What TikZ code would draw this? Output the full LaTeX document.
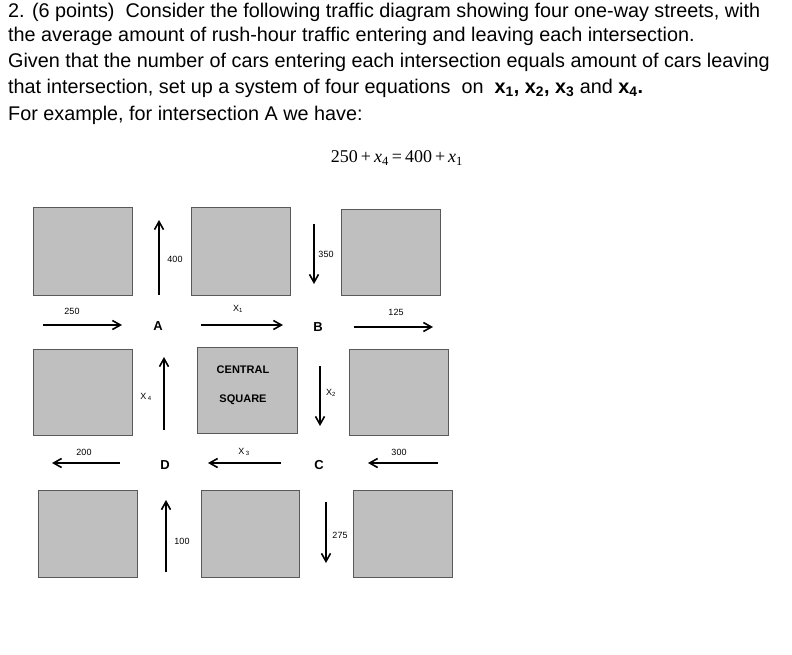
\documentclass[tikz,border=0pt]{standalone}
\usepackage{fontspec}
\setmainfont{Liberation Sans}
\newfontfamily\eqfont{Liberation Serif}
\usetikzlibrary{arrows.meta}
\begin{document}
\begin{tikzpicture}[x=1pt,y=-1pt,
  blk/.style={draw=gray!70!black,fill=gray!50,line width=0.6pt},
  arr/.style={-{Straight Barb[length=8pt,width=9pt,line width=1.6pt]},line width=1.6pt},
  lbl/.style={font=\fontsize{9}{10}\selectfont},
  inter/.style={font=\fontsize{13}{15}\selectfont\bfseries},
  txt/.style={anchor=west,font=\fontsize{19.8}{22}\selectfont,inner sep=0pt}]
\useasboundingbox (0,0) rectangle (792,654);
\node[txt] (t1) at (8,12) {2. (6 points)\ \ Consider the following traffic diagram showing four one-way streets, with};
\node[txt] (t2) at (8,36) {the average amount of rush-hour traffic entering and leaving each intersection.};
\node[txt] (t3) at (8,62) {Given that the number of cars entering each intersection equals amount of cars leaving};
\node[txt] (t4) at (8,88) {that intersection, set up a system of four equations\ \ on\ \ \textbf{x\textsubscript{1}, x\textsubscript{2},\ x\textsubscript{3}} and \textbf{x\textsubscript{4}.}};
\node[txt] (t5) at (8,115) {For example, for intersection A we have:};
\node[font=\eqfont\fontsize{18}{20}\selectfont] (eq) at (397,158) {250\,+\,\textit{x}\textsubscript{4}\,=\,400\,+\,\textit{x}\textsubscript{1}};
% blocks
\draw[blk] (33,207) rectangle (132,295);
\draw[blk] (191,207) rectangle (290,295);
\draw[blk] (341,209) rectangle (440,295);
\draw[blk] (33,349) rectangle (132,435);
\draw[blk] (197,347) rectangle (297,433);
\draw[blk] (349,349) rectangle (448,435);
\draw[blk] (38,490) rectangle (137,577);
\draw[blk] (201,490) rectangle (299,577);
\draw[blk] (353,490) rectangle (452,577);
\node[inter,font=\fontsize{11}{13}\selectfont\bfseries] (cen) at (243,370) {CENTRAL};
\node[inter,font=\fontsize{11}{13}\selectfont\bfseries] (sq) at (243,400) {SQUARE};
% intersections
\node[inter] (A) at (158,326) {A};
\node[inter] (B) at (318,327) {B};
\node[inter] (D) at (165,465) {D};
\node[inter] (C) at (319,465) {C};
% arrow endpoints
\coordinate (a1s) at (159,295); \coordinate (a1e) at (159,220);
\coordinate (a2s) at (314,224); \coordinate (a2e) at (314,284);
\coordinate (a3s) at (43,325); \coordinate (a3e) at (122,325);
\coordinate (a4s) at (201,325); \coordinate (a4e) at (283,325);
\coordinate (a5s) at (354,327); \coordinate (a5e) at (433,327);
\coordinate (a6s) at (164,430); \coordinate (a6e) at (164,357);
\coordinate (a7s) at (320,366); \coordinate (a7e) at (320,426);
\coordinate (a8s) at (120,463); \coordinate (a8e) at (52,463);
\coordinate (a9s) at (281,463); \coordinate (a9e) at (208,463);
\coordinate (a10s) at (438,463); \coordinate (a10e) at (368,463);
\coordinate (a11s) at (166,572); \coordinate (a11e) at (166,500);
\coordinate (a12s) at (326,502); \coordinate (a12e) at (326,563);
\foreach \i in {1,...,12} \draw[arr] (a\i s) -- (a\i e);
\node[lbl] (l400) at (175,259) {400};
\node[lbl] (l350) at (326,254) {350};
\node[lbl] (l250) at (72,311) {250};
\node[lbl] (lx1) at (238,309) {X\textsubscript{1}};
\node[lbl] (l125) at (396,312) {125};
\node[lbl] (lx4) at (146,397) {X\,\textsubscript{4}};
\node[lbl] (lx2) at (331,393) {X\textsubscript{2}};
\node[lbl] (l200) at (84,452) {200};
\node[lbl] (lx3) at (244,452) {X\,\textsubscript{3}};
\node[lbl] (l300) at (399,452) {300};
\node[lbl] (l100) at (182,541) {100};
\node[lbl] (l275) at (340,535) {275};
\end{tikzpicture}
\end{document}
